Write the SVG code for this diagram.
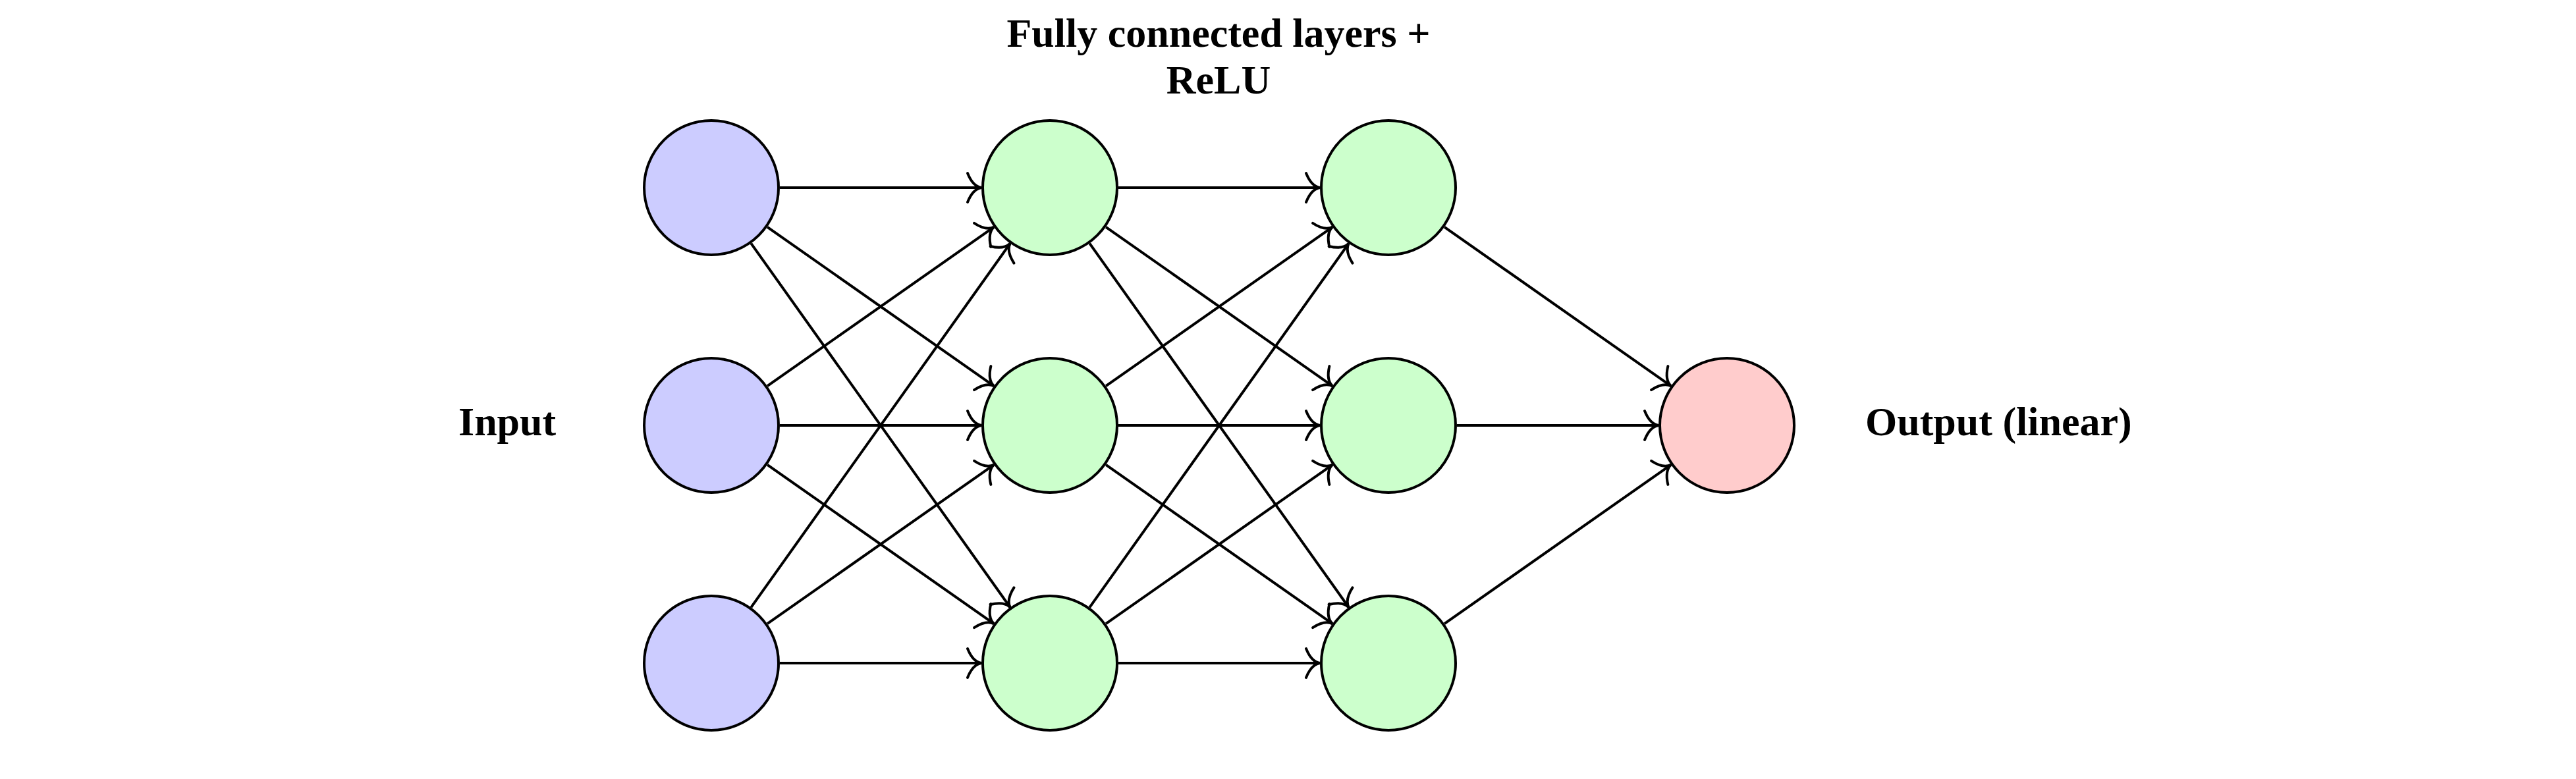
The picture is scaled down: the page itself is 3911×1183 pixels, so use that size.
<svg xmlns="http://www.w3.org/2000/svg" width="3911" height="1183" viewBox="0 0 3911 1183">
<style>
.lbl{font-family:"Liberation Serif","Times New Roman",serif;font-weight:bold;font-size:62px;fill:#000}
.n{stroke:#000;stroke-width:4}
.in{fill:#ccccff}
.hid{fill:#ccffcc}
.out{fill:#ffcccc}
#edges line{stroke:#000;stroke-width:4;marker-end:url(#to)}
</style>
<defs>
<marker id="to" viewBox="-30 -30 40 60" markerWidth="40" markerHeight="60" refX="0" refY="0" orient="auto" markerUnits="userSpaceOnUse" overflow="visible">
<path d="M -21,-22 Q -13,-2 0,0 Q -13,2 -21,22" fill="none" stroke="#000" stroke-width="4" stroke-linecap="round"/>
</marker>
</defs>
<rect width="3911" height="1183" fill="#fff"/>
<g id="edges">
<line x1="1184" y1="285" x2="1490" y2="285"/>
<line x1="1184" y1="646" x2="1490" y2="646"/>
<line x1="1184" y1="1007" x2="1490" y2="1007"/>
<line x1="1165.1" y1="344.8" x2="1508.9" y2="586.2"/>
<line x1="1165.1" y1="705.8" x2="1508.9" y2="947.2"/>
<line x1="1165.1" y1="586.2" x2="1508.9" y2="344.8"/>
<line x1="1165.1" y1="947.2" x2="1508.9" y2="705.8"/>
<line x1="1140.3" y1="369.7" x2="1533.7" y2="922.3"/>
<line x1="1140.3" y1="922.3" x2="1533.7" y2="369.7"/>
<line x1="1698" y1="285" x2="2004" y2="285"/>
<line x1="1698" y1="646" x2="2004" y2="646"/>
<line x1="1698" y1="1007" x2="2004" y2="1007"/>
<line x1="1679.1" y1="344.8" x2="2022.9" y2="586.2"/>
<line x1="1679.1" y1="705.8" x2="2022.9" y2="947.2"/>
<line x1="1679.1" y1="586.2" x2="2022.9" y2="344.8"/>
<line x1="1679.1" y1="947.2" x2="2022.9" y2="705.8"/>
<line x1="1654.3" y1="369.7" x2="2047.7" y2="922.3"/>
<line x1="1654.3" y1="922.3" x2="2047.7" y2="369.7"/>
<line x1="2193.1" y1="344.8" x2="2536.9" y2="586.2"/>
<line x1="2212" y1="646" x2="2518" y2="646"/>
<line x1="2193.1" y1="947.2" x2="2536.9" y2="705.8"/>
</g>
<g id="input1"><circle class="n in" cx="1080" cy="285" r="102"/></g>
<g id="input2"><circle class="n in" cx="1080" cy="646" r="102"/></g>
<g id="input3"><circle class="n in" cx="1080" cy="1007" r="102"/></g>
<g id="hidden1_1"><circle class="n hid" cx="1594" cy="285" r="102"/></g>
<g id="hidden1_2"><circle class="n hid" cx="1594" cy="646" r="102"/></g>
<g id="hidden1_3"><circle class="n hid" cx="1594" cy="1007" r="102"/></g>
<g id="hidden2_1"><circle class="n hid" cx="2108" cy="285" r="102"/></g>
<g id="hidden2_2"><circle class="n hid" cx="2108" cy="646" r="102"/></g>
<g id="hidden2_3"><circle class="n hid" cx="2108" cy="1007" r="102"/></g>
<g id="output"><circle class="n out" cx="2622" cy="646" r="102"/></g>
<g id="labels">
<text class="lbl" x="1850" y="71" text-anchor="middle">Fully connected layers +</text>
<text class="lbl" x="1850" y="142" text-anchor="middle">ReLU</text>
<text class="lbl" x="696" y="661">Input</text>
<text class="lbl" x="2832" y="661">Output (linear)</text>
</g>
</svg>
